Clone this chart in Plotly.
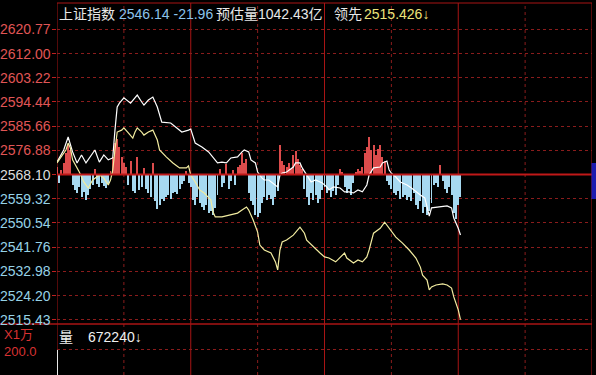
import plotly.graph_objects as go

# ---------------- data ----------------
tick_values = [2620.77, 2612.00, 2603.22, 2594.44, 2585.66, 2576.88, 2568.10,
               2559.32, 2550.54, 2541.76, 2532.98, 2524.20, 2515.43]
tick_labels = ["2620.77", "2612.00", "2603.22", "2594.44", "2585.66", "2576.88", "2568.10",
               "2559.32", "2550.54", "2541.76", "2532.98", "2524.20", "2515.43"]
prev_close = 2568.10

price_minutes = [0, 3, 5, 7, 9, 11, 13, 14, 17, 19, 21, 23, 25, 26, 27, 28, 30, 33, 34, 36,
                 38, 39, 41, 43, 45, 47, 51, 54, 56, 59, 60, 62, 65, 68, 70, 72, 74, 76, 78, 81,
                 83, 84, 86, 87, 89, 90, 92, 93, 95, 98, 99, 100, 101, 103, 104, 106, 107, 109, 110, 112,
                 114, 116, 119, 121, 122, 124, 127, 129, 131, 133, 135, 137, 139, 140, 142, 145, 146, 148, 149, 150,
                 152, 154, 157, 159, 161, 163, 165, 166, 167, 168, 171, 173, 175, 177, 178, 180, 181]
price_values = [2572.6, 2577.0, 2581.7, 2576.3, 2572.3, 2575.2, 2572.3, 2573.4, 2577.0, 2572.6,
                2575.2, 2573.4, 2574.1, 2584.2, 2592.6, 2594.0, 2595.9, 2594.0, 2595.1, 2596.9,
                2594.4, 2593.3, 2595.1, 2596.2, 2592.6, 2587.1, 2586.8, 2585.0, 2583.5, 2584.2,
                2584.6, 2579.5, 2578.1, 2576.3, 2574.1, 2572.3, 2572.6, 2572.3, 2574.1, 2574.5,
                2576.3, 2577.0, 2576.3, 2573.4, 2572.3, 2569.0, 2566.8, 2566.1, 2566.1, 2564.3,
                2563.6, 2567.9, 2568.6, 2569.0, 2569.7, 2570.8, 2572.3, 2572.3, 2570.5, 2567.9,
                2565.4, 2566.1, 2565.0, 2563.6, 2562.5, 2563.6, 2563.2, 2561.8, 2561.8, 2561.4,
                2562.5, 2561.8, 2564.3, 2567.9, 2570.5, 2570.8, 2572.3, 2573.0, 2569.7, 2568.6,
                2567.2, 2565.4, 2564.3, 2563.2, 2561.8, 2560.7, 2559.6, 2556.0, 2553.0, 2556.0,
                2556.3, 2556.3, 2556.7, 2556.0, 2552.3, 2548.6, 2546.14]

lead_minutes = [0, 2, 4, 5, 6, 7, 9, 10, 12, 14, 16, 18, 19, 21, 23, 24, 25, 26, 27, 29,
                30, 32, 34, 35, 36, 38, 39, 41, 43, 45, 46, 49, 52, 55, 58, 59, 60, 62, 64, 66,
                69, 70, 71, 74, 77, 81, 83, 85, 86, 88, 90, 91, 93, 95, 96, 98, 99, 100, 101, 103,
                106, 109, 111, 112, 115, 118, 120, 122, 125, 128, 129, 130, 133, 135, 137, 139, 140, 142, 145, 147,
                148, 150, 152, 155, 158, 161, 163, 164, 166, 167, 168, 170, 173, 175, 177, 178, 180, 181]
lead_values = [2572.3, 2574.5, 2577.0, 2579.5, 2577.7, 2573.4, 2570.5, 2569.0, 2565.4, 2563.2,
               2566.1, 2567.2, 2567.9, 2566.8, 2564.3, 2566.1, 2569.7, 2577.0, 2583.5, 2584.2,
               2585.0, 2583.2, 2581.3, 2583.5, 2585.0, 2583.5, 2582.4, 2583.5, 2584.2, 2580.6,
               2577.0, 2574.5, 2572.3, 2570.5, 2570.5, 2571.2, 2567.9, 2565.4, 2562.5, 2561.4,
               2558.9, 2554.5, 2552.7, 2552.7, 2553.4, 2554.1, 2555.2, 2556.3, 2555.2, 2551.6,
               2547.2, 2542.5, 2540.7, 2540.0, 2539.6, 2536.4, 2533.5, 2540.7, 2543.6, 2544.3,
               2546.1, 2549.0, 2546.8, 2544.3, 2541.8, 2539.6, 2538.2, 2537.8, 2536.4, 2538.9,
               2539.6, 2537.8, 2536.0, 2537.1, 2536.4, 2538.2, 2540.7, 2546.8, 2548.6, 2550.8,
               2549.7, 2547.2, 2545.4, 2543.2, 2540.7, 2537.8, 2534.5, 2531.6, 2529.8, 2526.2,
               2527.3, 2528.0, 2528.4, 2528.0, 2526.9, 2523.7, 2519.0, 2515.43]

# buy/sell force bars, one per minute (0..181)
force_values = [8, -8, 5, 12, 22, 30, 25, -10, -15, -18,
                -12, -22, -17, -25, -20, -14, -10, 6, -9, -12,
                -8, -11, -13, -9, 4, 18, 32, 36, 28, 18,
                12, 8, -10, 14, -16, -18, 18, -15, -12, 7,
                -14, -18, -22, 12, -26, -34, -30, -24, -26, -22,
                -20, -24, -18, -17, -19, -14, -9, -6, 4, -8,
                -12, -25, -30, -22, -28, -32, -35, -30, -38, -36,
                -40, -33, -20, 6, -12, -8, 11, -14, -6, 5,
                -10, 8, 10, 22, 12, 16, -18, -26, -30, -40,
                -42, -38, -28, -22, -25, -20, -24, -30, -22, -16,
                30, 14, 10, 8, 12, 6, 20, 24, 16, 10,
                6, -14, -22, -30, -18, -25, -20, -28, -24, -15,
                -12, -18, -14, -22, -16, -20, -10, 6, 3, -12,
                -18, -14, -20, -8, 3, 6, 4, 8, 22, 28,
                38, 25, 30, 20, 26, 30, 18, 14, -6, -10,
                -14, -18, -20, -16, -24, -22, -20, -25, -22, -26,
                -18, -30, -34, -26, -38, -32, -40, -36, -28, -10,
                -8, -12, 10, -6, -14, -18, -12, -20, -38, -44,
                -30, -22]
force_minutes = list(range(len(force_values)))

vol_minutes = [0]
vol_values = [198]

# ---------------- layout geometry ----------------
W, H = 596, 375
L, R, T, B = 57, 4, 3, 0
PW, PH = W - L - R, H - T - B
split = (H - 324) / PH          # main / volume boundary


def px_x(px):
    return (px - L) / PW


def px_y(py):
    return (H - py) / PH


RED_SOLID = "#a81414"
RED_DOT = "#8a1c1c"
FONT = "Liberation Sans, Arial, Noto Sans CJK SC"

fig = go.Figure()

# bars (base subplot)
bar_colors = ["#dc4c4c" if v > 0 else "#a6d8f0" for v in force_values]
fig.add_trace(go.Bar(x=force_minutes, y=force_values, marker_color=bar_colors,
                     marker_line_width=0, width=0.45, xaxis="x", yaxis="y",
                     showlegend=False, hoverinfo="skip"))

# lines (overlaying subplot, drawn on top)
fig.add_trace(go.Scatter(x=price_minutes, y=price_values, mode="lines",
                         line=dict(color="#ffffff", width=1.2), xaxis="x", yaxis="y3",
                         showlegend=False))
fig.add_trace(go.Scatter(x=lead_minutes, y=lead_values, mode="lines",
                         line=dict(color="#f2eca0", width=1.2), xaxis="x", yaxis="y3",
                         showlegend=False))

# volume
fig.add_trace(go.Bar(x=vol_minutes, y=vol_values, marker_color="#e8e8e8",
                     marker_line_width=0, width=0.5, xaxis="x", yaxis="y2",
                     showlegend=False))

ymin = prev_close - (324 - 174.5) * (8.78 / 24.2)
ymax = prev_close + (174.5 - 3) * (8.78 / 24.2)

fig.update_layout(
    width=W, height=H,
    margin=dict(l=L, r=R, t=T, b=B, pad=0),
    paper_bgcolor="#000000", plot_bgcolor="#000000",
    bargap=0, barmode="overlay",
    xaxis=dict(range=[0, 240], showgrid=False, zeroline=False, showticklabels=False,
               ticks="", showline=False, anchor="y2", domain=[0, 1]),
    yaxis=dict(domain=[split, 1], range=[-149.5, 171.5], showgrid=False, zeroline=False,
               showticklabels=False, ticks="", anchor="x"),
    yaxis3=dict(overlaying="y", range=[ymin, ymax], tickvals=tick_values,
                showticklabels=False, ticks="outside", ticklen=4, tickcolor="#c02020",
                showgrid=True, gridcolor=RED_DOT, griddash="dot", gridwidth=1,
                zeroline=False, anchor="x"),
    yaxis2=dict(domain=[0, split], range=[126.8, 270.4], tickvals=[200],
                showticklabels=False, ticks="", showgrid=True, gridcolor=RED_DOT,
                griddash="dot", zeroline=False, anchor="x"),
)

shapes = []
for m in [0, 60, 120, 180, 240]:
    shapes.append(dict(type="line", xref="x", yref="paper", x0=m, x1=m, y0=0, y1=1,
                       line=dict(color=RED_SOLID, width=1), layer="below"))
for m in [30, 90, 150, 210]:
    shapes.append(dict(type="line", xref="x", yref="paper", x0=m, x1=m, y0=0, y1=1,
                       line=dict(color=RED_DOT, width=1, dash="dot"), layer="below"))
# borders
shapes.append(dict(type="line", xref="paper", yref="paper", x0=0, x1=1, y0=1, y1=1,
                   line=dict(color=RED_SOLID, width=1)))
shapes.append(dict(type="line", xref="paper", yref="paper", x0=-L / PW, x1=1, y0=split, y1=split,
                   line=dict(color=RED_SOLID, width=1.5)))
# previous close line
shapes.append(dict(type="line", xref="paper", yref="y3", x0=0, x1=1,
                   y0=prev_close, y1=prev_close, line=dict(color="#c01818", width=2),
                   layer="above"))
# blue marker box at right edge
shapes.append(dict(type="rect", xref="paper", yref="y3", x0=px_x(591.5), x1=px_x(597),
                   y0=prev_close - (199 - 174.5) * (8.78 / 24.2),
                   y1=prev_close + (174.5 - 163) * (8.78 / 24.2),
                   fillcolor="#1c1cb0", line=dict(width=0)))
fig.update_layout(shapes=shapes)

ann = []
for v, lab in zip(tick_values, tick_labels):
    if v > prev_close + 0.01:
        col = "#e05656"
    elif abs(v - prev_close) < 0.01:
        col = "#dcdcdc"
    else:
        col = "#96d2e6"
    ann.append(dict(xref="paper", yref="y3", x=0, y=v, xanchor="right", yanchor="middle",
                    xshift=-4, text=lab, showarrow=False,
                    font=dict(family=FONT, size=14, color=col)))


def txt(px, py, s, col, size=14):
    return dict(xref="paper", yref="paper", x=px_x(px), y=px_y(py), xanchor="left",
                yanchor="middle", text=s, showarrow=False,
                font=dict(family=FONT, size=size, color=col))


ann += [
    txt(57, 14, "上证指数", "#e8e8e8"),
    txt(117, 14, "2546.14 -21.96", "#8cc4ec"),
    txt(214, 14, "预估量1042.43亿", "#e8e8e8"),
    txt(332, 14, "领先", "#e8e8e8"),
    txt(362, 14, "2515.426↓", "#ece47a"),
    txt(57, 337, "量", "#f0f0f0"),
    txt(86, 337, "672240↓", "#f0f0f0"),
    txt(2, 334, "X1万", "#d83232", 13),
    txt(2, 351, "200.0", "#d83232", 13),
]
fig.update_layout(annotations=ann)

fig.write_html("out.html")
